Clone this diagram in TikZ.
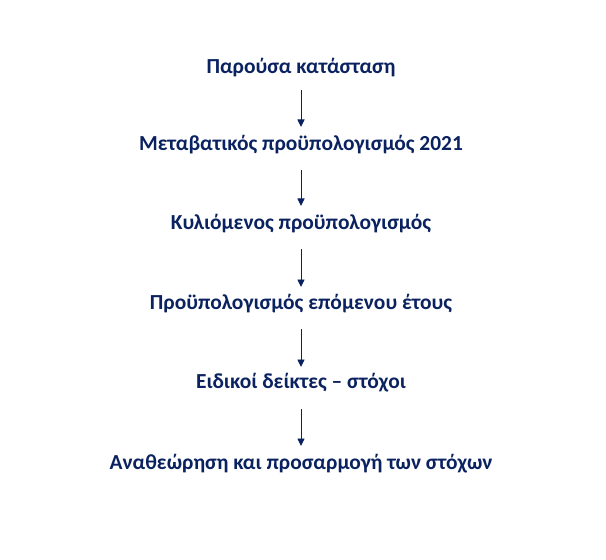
\documentclass[tikz,border=0pt]{standalone}
\usepackage{fontspec}
\setmainfont{Carlito}
\usetikzlibrary{arrows.meta}
\definecolor{navy}{HTML}{0B2260}
\tikzset{
  stage/.style={font=\bfseries\fontsize{21.5}{24}\selectfont, text=navy, inner sep=0pt},
  flow/.style={-{Triangle[width=7bp,length=7.5bp]}, navy, line width=0.9bp}
}
\begin{document}
\begin{tikzpicture}[x=1bp,y=-1bp]
        \useasboundingbox (0,0) rectangle (606,560);
        \node[stage] (s1) at (301,68) {Παρούσα κατάσταση};
        \node[stage] (s2) at (301,145) {Μεταβατικός προϋπολογισμός 2021};
        \node[stage] (s3) at (301,224) {Κυλιόμενος προϋπολογισμός};
        \node[stage] (s4) at (301,304) {Προϋπολογισμός επόμενου έτους};
        \node[stage] (s5) at (301,383) {Ειδικοί δείκτες – στόχοι};
        \node[stage] (s6) at (301,464) {Αναθεώρηση και προσαρμογή των στόχων};
        \draw[flow] ([yshift=-22bp]s1.center) -- ([yshift=18bp]s2.center);
        \draw[flow] ([yshift=-25bp]s2.center) -- ([yshift=18bp]s3.center);
        \draw[flow] ([yshift=-25bp]s3.center) -- ([yshift=17bp]s4.center);
        \draw[flow] ([yshift=-25bp]s4.center) -- ([yshift=16bp]s5.center);
        \draw[flow] ([yshift=-26bp]s5.center) -- ([yshift=18bp]s6.center);
\end{tikzpicture}
\end{document}
